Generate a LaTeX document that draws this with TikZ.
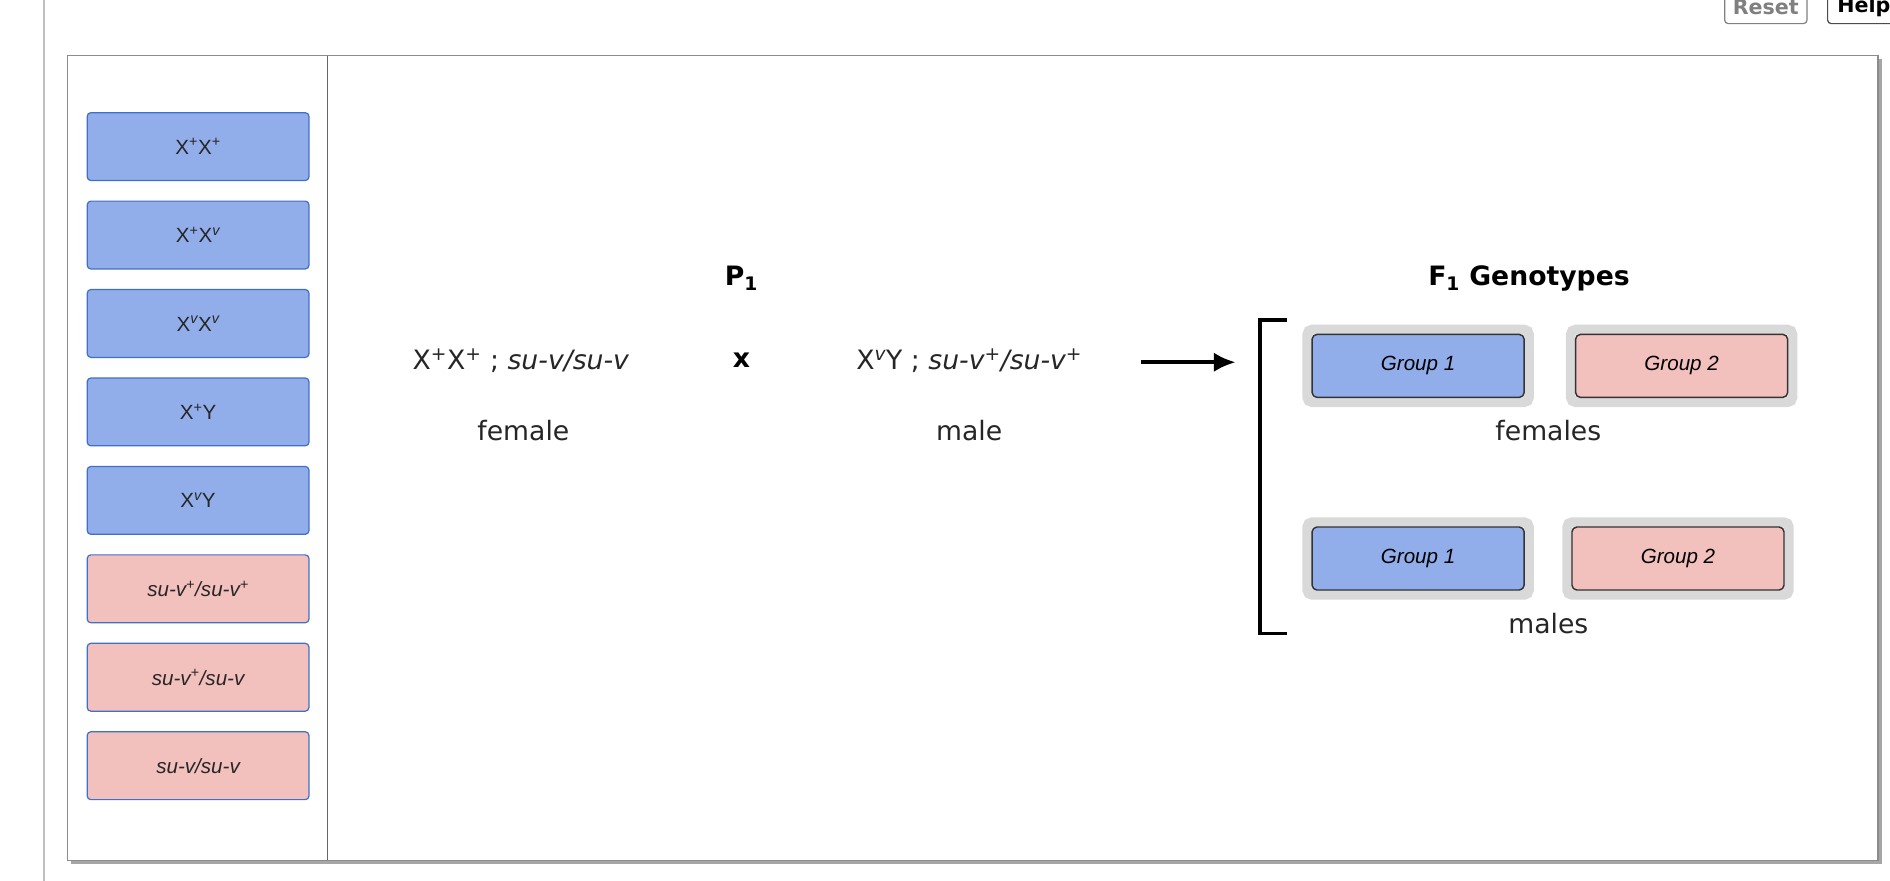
\documentclass[tikz,border=0pt]{standalone}
\usepackage{fontspec}
\usetikzlibrary{arrows.meta}
\setmainfont{DejaVu Sans}
\newfontfamily\arialf{Liberation Sans}
\begin{document}
\begin{tikzpicture}[x=1pt,y=-1pt,
 tile/.style={rounded corners=3pt, line width=1pt},
 bluet/.style={tile, fill=tblue, draw=tbord},
 pinkt/.style={tile, fill=tpink, draw=tbord},
 grp/.style={rounded corners=4pt, line width=1.2pt, draw=black!80, minimum width=175pt, minimum height=52pt, font=\arialf\itshape\fontsize{17}{20}\selectfont},
 lbl/.style={font=\fontsize{22}{26}\selectfont, text=black!85},
 ttxt/.style={font=\arialf\fontsize{17}{20}\selectfont, text=black!85}]
\definecolor{tblue}{HTML}{92AEEA}
\definecolor{tpink}{HTML}{F2C0BD}
\definecolor{tbord}{HTML}{3F6FCB}
\useasboundingbox (0,0) rectangle (1560,727);
\fill[white] (0,0) rectangle (1560,727);
\draw[black!25, line width=1.5pt] (36,0) -- (36,727);
% buttons
\node[draw=black!50, rounded corners=3pt, line width=1pt, minimum width=68pt, minimum height=28pt, font=\bfseries\fontsize{17}{20}\selectfont, text=black!50, anchor=south west] (reset) at (1423,20) {Reset};
\node[draw=black!70, rounded corners=3pt, line width=1pt, minimum width=60pt, minimum height=28pt, font=\bfseries\fontsize{17}{20}\selectfont, anchor=south west] (help) at (1508,20) {Help};
% main box
\fill[black!35] (59,49) rectangle (1553,713);
\draw[black!45, fill=white, line width=1pt] (56,46) rectangle (1550,710);
\draw[black!60, line width=1pt] (270,46) -- (270,710);
% tiles
\foreach \i/\t/\s in {0/{X\textsuperscript{+}X\textsuperscript{+}}/bluet,
  1/{X\textsuperscript{+}X\textsuperscript{\itshape v}}/bluet,
  2/{X\textsuperscript{\itshape v}X\textsuperscript{\itshape v}}/bluet,
  3/{X\textsuperscript{+}Y}/bluet,
  4/{X\textsuperscript{\itshape v}Y}/bluet,
  5/{\itshape su-v\textsuperscript{+}/su-v\textsuperscript{+}}/pinkt,
  6/{\itshape su-v\textsuperscript{+}/su-v}/pinkt,
  7/{\itshape su-v/su-v}/pinkt}{
  \node[\s, ttxt, minimum width=183pt, minimum height=56pt] (t\i) at (163.5,{121+73*\i}) {\t};
}
% P1
\node[font=\bfseries\fontsize{22}{26}\selectfont] (p1) at (612,230) {P\textsubscript{1}};
\node[lbl] (fg) at (430,298) {X\textsuperscript{+}X\textsuperscript{+} ; \textit{su-v/su-v}};
\node[font=\bfseries\fontsize{22}{26}\selectfont] (x) at (612,297) {x};
\node[lbl] (mg) at (800,298) {X\textsuperscript{\itshape v}Y ; \textit{su-v\textsuperscript{+}/su-v\textsuperscript{+}}};
\node[lbl] (fe) at (432,355) {female};
\node[lbl] (ma) at (800,355) {male};
\coordinate (a1) at (942,299); \coordinate (a2) at (1020,299);
\draw[line width=3.5pt, -{Latex[length=18pt,width=16pt]}] (a1) -- (a2);
\draw[line width=3pt] (1062,264) -- (1040,264) -- (1040,523) -- (1062,523);
\node[font=\bfseries\fontsize{22}{26}\selectfont] (f1) at (1262,230) {F\textsubscript{1} Genotypes};
\foreach \n/\x/\y/\c/\t in {g1/1170.5/302/tblue/Group 1, g2/1388/302/tpink/Group 2, g3/1170.5/461/tblue/Group 1, g4/1385/461/tpink/Group 2}{
  \node[grp, draw=black!15, line width=8pt, minimum width=183pt, minimum height=60pt] (\n h) at (\x,\y) {};
  \node[grp, fill=\c] (\n) at (\x,\y) {\t};
}
\node[lbl] (fs) at (1278,355) {females};
\node[lbl] (ms) at (1278,515) {males};
\end{tikzpicture}
\end{document}
